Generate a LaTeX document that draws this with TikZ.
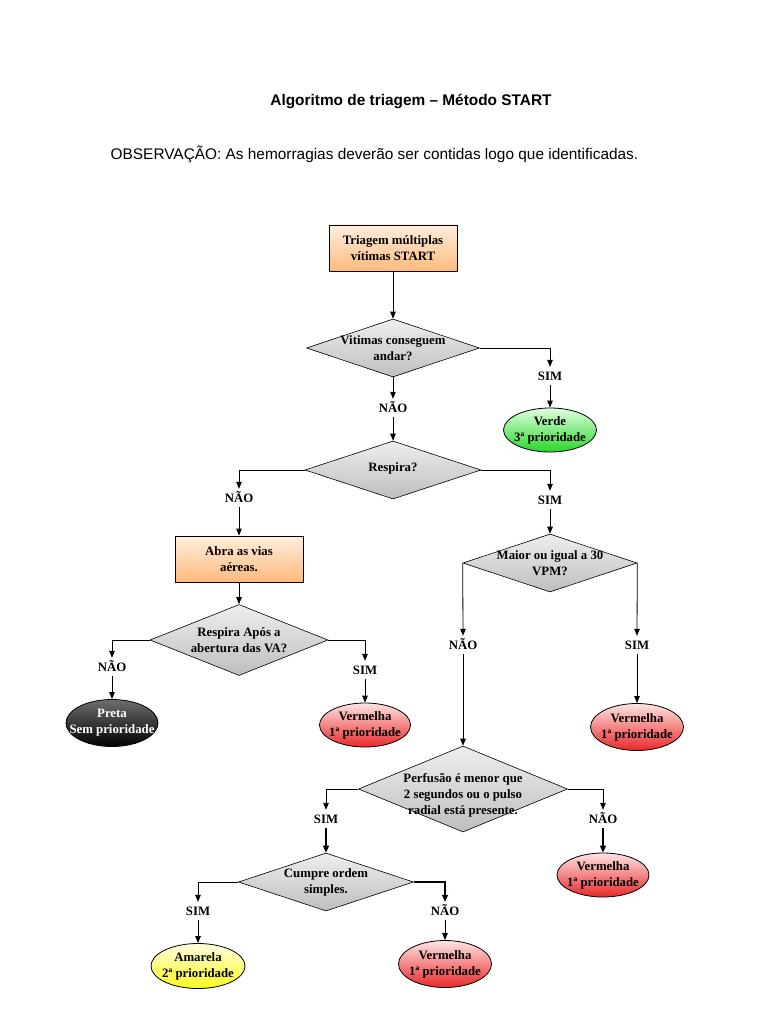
\documentclass[tikz,border=0pt]{standalone}
\usepackage{fontspec}
\setmainfont{Liberation Serif}
\newfontfamily\arialf{Liberation Sans}
\usetikzlibrary{shapes.geometric,arrows.meta}
\definecolor{boxtop}{RGB}{255,238,222}
\definecolor{boxbot}{RGB}{255,186,124}
\definecolor{diatop}{RGB}{238,238,238}
\definecolor{diabot}{RGB}{190,190,190}
\definecolor{greentop}{RGB}{225,255,225}
\definecolor{greenbot}{RGB}{40,215,40}
\definecolor{redtop}{RGB}{255,228,228}
\definecolor{redbot}{RGB}{232,40,40}
\definecolor{yeltop}{RGB}{255,255,225}
\definecolor{yelbot}{RGB}{250,250,30}
\definecolor{blktop}{RGB}{110,110,110}
\definecolor{blkbot}{RGB}{0,0,0}
\newcommand\diagfont{\fontsize{12.8}{16}\selectfont\bfseries}
\begin{document}
\begin{tikzpicture}[x=1pt,y=-1pt,
  dia/.style={diamond, draw, line width=0.6pt, inner sep=0pt, top color=diatop, bottom color=diabot},
  box/.style={rectangle, draw, line width=0.8pt, minimum width=128pt, minimum height=46pt, inner sep=0pt, top color=boxtop, bottom color=boxbot, align=center, font=\diagfont},
  ell/.style={ellipse, draw, line width=0.8pt, inner sep=0pt},
  green/.style={ell, top color=greentop, bottom color=greenbot},
  red/.style={ell, top color=redtop, bottom color=redbot},
  yel/.style={ell, top color=yeltop, bottom color=yelbot},
  blk/.style={ell, top color=blktop, bottom color=blkbot},
  txt/.style={align=center, font=\diagfont, inner sep=0pt},
  lab/.style={font=\diagfont, text height=9pt, text depth=0pt, inner sep=4.5pt},
  arr/.style={line width=0.8pt, -{Triangle[length=7pt,width=5.5pt]}},
  arrb/.style={line width=1.4pt, -{Triangle[length=7pt,width=6pt]}}
]
\useasboundingbox[fill=white] (0,0) rectangle (768,1024);

\node[font=\arialf\bfseries\fontsize{15.4}{18}\selectfont] (title) at (411,101) {Algoritmo de triagem – Método START};
\node[font=\arialf\fontsize{15.4}{18}\selectfont] (obs) at (374.5,154) {OBSERVAÇÃO: As hemorragias deverão ser contidas logo que identificadas.};

% start
\node[box] (start) at (393,248) {Triagem múltiplas\\vítimas START};

% diamond 1
\node[dia, minimum width=173pt, minimum height=58pt] (d1) at (393,348) {};
\node[txt] (t1) at (393,348) {Vitimas conseguem\\andar?};
\node[lab] (sim1) at (550,376) {SIM};
\node[green, minimum width=93pt, minimum height=44pt] (verde) at (550,430) {};
\node[txt] (tverde) at (550,430) {Verde\\3ª prioridade};
\node[lab] (nao1) at (393,408) {NÃO};

% diamond 2
\node[dia, minimum width=176pt, minimum height=58pt] (d2) at (393,470) {};
\node[txt] (t2) at (393,468) {Respira?};
\node[lab] (nao2) at (239,498) {NÃO};
\node[lab] (sim2) at (550,500) {SIM};

% left branch
\node[box] (abra) at (239,559) {Abra as vias\\aéreas.};
\node[dia, minimum width=178pt, minimum height=71pt] (d3) at (239,640) {};
\node[txt] (t3) at (239,640) {Respira Após a\\abertura das VA?};
\node[lab] (nao3) at (112,667) {NÃO};
\node[lab] (sim3) at (365,670) {SIM};
\node[blk, minimum width=92pt, minimum height=47pt] (preta) at (112,723) {};
\node[txt, text=white] (tpreta) at (112,723) {Preta\\Sem prioridade};
\node[red, minimum width=91pt, minimum height=44pt] (verm1) at (365,725) {};
\node[txt] (tverm1) at (365,725) {Vermelha\\1ª prioridade};

% right branch
\node[dia, minimum width=174pt, minimum height=58pt] (d4) at (550,563) {};
\node[txt] (t4) at (550,563) {Maior ou igual a 30\\VPM?};
\node[lab] (nao4) at (463,645) {NÃO};
\node[lab] (sim4) at (637,645) {SIM};
\node[red, minimum width=93pt, minimum height=47pt] (verm2) at (637,727) {};
\node[txt] (tverm2) at (637,727) {Vermelha\\1ª prioridade};

% perfusion
\node[dia, minimum width=209pt, minimum height=86pt] (d5) at (463,789) {};
\node[txt] (t5) at (463,795) {Perfusão é menor que\\2 segundos ou o pulso\\radial está presente.};
\node[lab] (sim5) at (326,819) {SIM};
\node[lab] (nao5) at (603,819) {NÃO};
\node[red, minimum width=92pt, minimum height=44pt] (verm3) at (603,875) {};
\node[txt] (tverm3) at (603,875) {Vermelha\\1ª prioridade};

% cumpre
\node[dia, minimum width=175pt, minimum height=58pt] (d6) at (326,882) {};
\node[txt] (t6) at (326,882) {Cumpre ordem\\simples.};
\node[lab] (sim6) at (198,911) {SIM};
\node[lab] (nao6) at (445,911) {NÃO};
\node[yel, minimum width=94pt, minimum height=45pt] (amarela) at (198,966) {};
\node[txt] (tamarela) at (198,966) {Amarela\\2ª prioridade};
\node[red, minimum width=93pt, minimum height=47pt] (verm4) at (445,964) {};
\node[txt] (tverm4) at (445,964) {Vermelha\\1ª prioridade};

% connectors
\draw[arr] (start.south) -- (d1.north);
\draw[arr] (d1.east) -| (sim1.north);
\draw[arr] (sim1.south) -- (verde.north);
\draw[arr] (d1.south) -- (nao1.north);
\draw[arr] (nao1.south) -- (d2.north);
\draw[arr] (d2.west) -| (nao2.north);
\draw[arr] (nao2.south) -- (abra.north);
\draw[arr] (d2.east) -| (sim2.north);
\draw[arr] (sim2.south) -- (d4.north);
\draw[arr] (abra.south) -- (d3.north);
\draw[arr] (d3.west) -| (nao3.north);
\draw[arr] (nao3.south) -- (preta.north);
\draw[arr] (d3.east) -| (sim3.north);
\draw[arr] (sim3.south) -- (verm1.north);
\draw[arr] (d4.west) -- (nao4.north);
\draw[arr] (nao4.south) -- (d5.north);
\draw[arr] (d4.east) -- (sim4.north);
\draw[arr] (sim4.south) -- (verm2.north);
\draw[arr] (d5.west) -| (sim5.north);
\draw[arrb] (sim5.south) -- (d6.north);
\draw[arr] (d5.east) -| (nao5.north);
\draw[arrb] (nao5.south) -- (verm3.north);
\draw[arr] (d6.west) -| (sim6.north);
\draw[arr] (sim6.south) -- (amarela.north);
\draw[arrb] (d6.east) -| (nao6.north);
\draw[arr] (nao6.south) -- (verm4.north);
\end{tikzpicture}
\end{document}
